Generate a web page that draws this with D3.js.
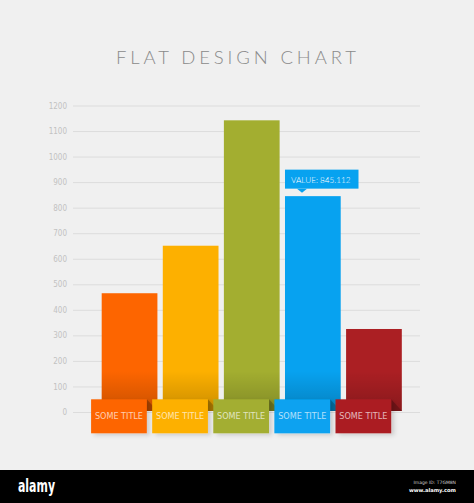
<!DOCTYPE html>
<html><head><meta charset="utf-8">
<script src="https://cdn.jsdelivr.net/npm/d3@7/dist/d3.min.js"></script>
<style>html,body{margin:0;padding:0;background:#f0f0f0;}svg{display:block;}</style>
</head><body>
<script>
const categories = ["A","B","C","D","E"];
const labels = ["SOME TITLE","SOME TITLE","SOME TITLE","SOME TITLE","SOME TITLE"];
const values = [465, 651, 1142, 845.112, 325];
const colors = ["#fd6500","#fdb000","#a3ae30","#07a2f0","#ab1f23"];
const tickValues = [0,100,200,300,400,500,600,700,800,900,1000,1100,1200];
const title = "FLAT DESIGN CHART";
const tooltipText = "VALUE: 845.112";

const W = 474, H = 503;
const svg = d3.select("body").append("svg").attr("width", W).attr("height", H);
svg.append("rect").attr("width", W).attr("height", H).attr("fill", "#f0f0f0");

const defs = svg.append("defs");
const g1 = defs.append("linearGradient").attr("id","shade").attr("x1",0).attr("y1",0).attr("x2",0).attr("y2",1);
g1.append("stop").attr("offset","0%").attr("stop-color","#000").attr("stop-opacity",0);
g1.append("stop").attr("offset","100%").attr("stop-color","#000").attr("stop-opacity",0.2);
const f = defs.append("filter").attr("id","sh").attr("x","-20%").attr("y","-20%").attr("width","150%").attr("height","160%");
f.append("feDropShadow").attr("dx",3).attr("dy",2).attr("stdDeviation",2).attr("flood-color","#000").attr("flood-opacity",0.15);

const y = d3.scaleLinear().domain([0,1200]).range([412,105.5]);
const x = d3.scaleBand().domain(categories).range([99,404.5]).paddingInner(0.088).paddingOuter(0.044);

// title
svg.append("text").attr("x",236).attr("y",64).attr("text-anchor","middle")
  .attr("font-family","Lato, 'Open Sans', sans-serif").attr("font-weight",300)
  .attr("font-size",18.5).attr("fill","#8a8a8a")
  .attr("textLength",240).attr("lengthAdjust","spacing").text(title);

// grid + ticks
const axis = d3.axisLeft(y).tickValues(tickValues).tickSize(-(420-73)).tickPadding(6).tickFormat(d3.format("d"));
const ax = svg.append("g").attr("transform","translate(73,0)").call(axis);
ax.select(".domain").remove();
ax.selectAll(".tick line").attr("stroke","#dcdcdc").attr("stroke-width",1);
ax.selectAll(".tick text").attr("fill","#c2c2c2").attr("font-size",8)
  .attr("font-family","'Liberation Sans Narrow','DejaVu Sans Condensed',sans-serif");

const barBottom = 411;
const labTop = 399.3, labH = 34, labShift = 10.6;

const gb = svg.append("g");
categories.forEach((c,i) => {
  const bx = x(c), bw = x.bandwidth(), top = y(values[i]);
  gb.append("rect").attr("x",bx).attr("y",top).attr("width",bw).attr("height",barBottom-top).attr("fill",colors[i]);
  const sTop = Math.max(top, barBottom-40);
  gb.append("rect").attr("x",bx).attr("y",sTop).attr("width",bw).attr("height",barBottom-sTop).attr("fill","url(#shade)");
  // fold
  const lr = bx - labShift + bw;
  gb.append("path").attr("d",`M${lr},${labTop}L${bx+bw},${barBottom}L${lr},${barBottom}Z`)
    .attr("fill", d3.color(colors[i]).darker(1.2));
});

const gl = svg.append("g");
categories.forEach((c,i) => {
  const bx = x(c) - labShift, bw = x.bandwidth();
  gl.append("rect").attr("x",bx).attr("y",labTop).attr("width",bw).attr("height",labH)
    .attr("fill",colors[i]).attr("filter","url(#sh)");
  gl.append("text").attr("x",bx+bw/2).attr("y",labTop+labH/2+3).attr("text-anchor","middle")
    .attr("font-family","'Liberation Sans Narrow','DejaVu Sans Condensed',sans-serif")
    .attr("font-size",9).attr("fill","#fff").attr("fill-opacity",0.7).text(labels[i]);
});

// tooltip on blue bar
const ti = 3;
const tx = x(categories[ti]), ty = y(values[ti]);
const tg = svg.append("g");
tg.append("rect").attr("x",tx).attr("y",ty-26.5).attr("width",73.5).attr("height",19).attr("fill",colors[ti]);
tg.append("path").attr("d",`M${tx+12},${ty-7.5}L${tx+17},${ty-3.5}L${tx+22},${ty-7.5}Z`).attr("fill",colors[ti]);
tg.append("text").attr("x",tx+6).attr("y",ty-13.5)
  .attr("font-family","Lato, 'Open Sans', sans-serif").attr("font-weight",300)
  .attr("font-size",8.2).attr("fill","#fff").text(tooltipText);

// footer
svg.append("rect").attr("x",0).attr("y",470).attr("width",W).attr("height",H-470).attr("fill","#000");
svg.append("text").attr("x",18).attr("y",492).attr("font-family","'Liberation Sans Narrow','DejaVu Sans Condensed',sans-serif")
  .attr("font-weight","bold").attr("font-size",17).attr("fill","#fff")
  .attr("textLength",37).attr("lengthAdjust","spacingAndGlyphs").text("alamy");
svg.append("text").attr("x",456).attr("y",484).attr("text-anchor","end").attr("font-family","'DejaVu Sans',sans-serif")
  .attr("font-size",4.5).attr("fill","#ccc").text("Image ID: T7GM8N");
svg.append("text").attr("x",456).attr("y",492).attr("text-anchor","end").attr("font-family","'DejaVu Sans',sans-serif")
  .attr("font-weight","bold").attr("font-size",5.2).attr("fill","#fff").text("www.alamy.com");
</script>
</body></html>
